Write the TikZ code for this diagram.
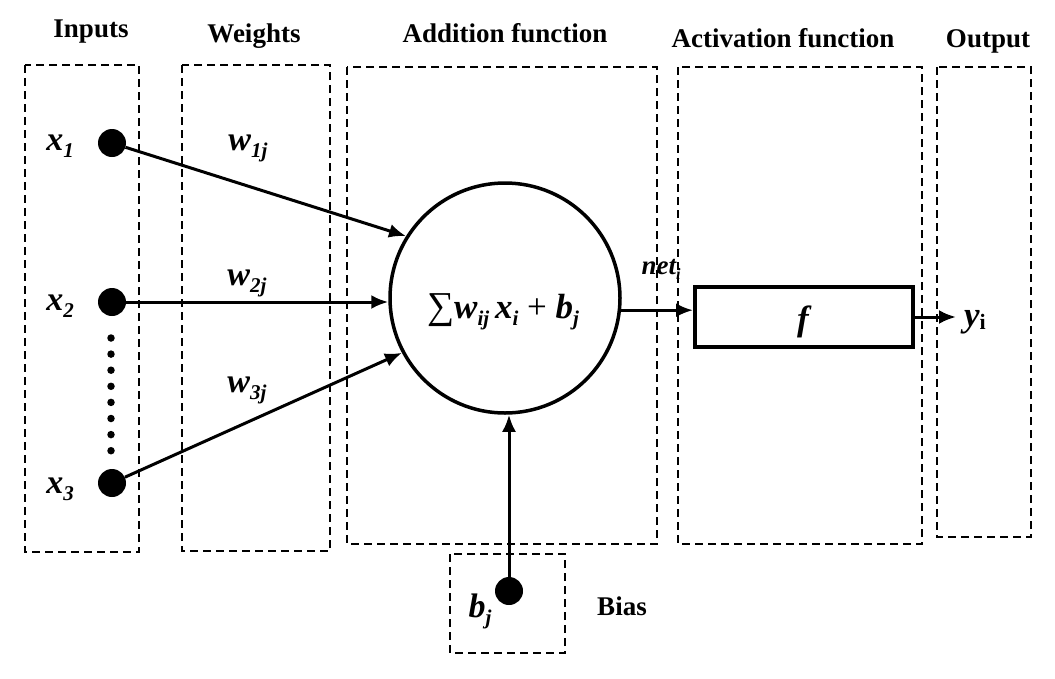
\documentclass[tikz,border=0pt]{standalone}
\usepackage{fontspec}
\setmainfont{Liberation Serif}
\usetikzlibrary{arrows.meta}
\newcommand{\mvar}[1]{{\bfseries\itshape #1}}
\newcommand{\msub}[1]{\raisebox{-0.22em}{\fontsize{21}{21}\selectfont\bfseries\itshape #1}}
\begin{document}
\begin{tikzpicture}[x=1pt,y=-1pt,
  group/.style={draw, dash pattern=on 8pt off 5pt, line width=1.4pt},
  heading/.style={font=\fontsize{27}{30}\selectfont\bfseries, anchor=base, inner sep=0pt},
  lbl/.style={font=\fontsize{34}{38}\selectfont, anchor=base, inner sep=0pt},
  dotnode/.style={circle, fill=black, minimum size=28pt, inner sep=0pt},
  smalldot/.style={circle, fill=black, minimum size=7.5pt, inner sep=0pt},
  arr/.style={line width=3pt, -{Latex[length=17pt,width=14pt]}},
]
\useasboundingbox (0,0) rectangle (1055,678);
% group boxes
\draw[group] (25,65) rectangle (139,552);
\draw[group] (182,65) rectangle (330,551);
\draw[group] (347,67) rectangle (657,544);
\draw[group] (678,67) rectangle (922,544);
\draw[group] (937,67) rectangle (1031,537);
\draw[group] (450,554) rectangle (565,653);
% headings
\node[heading] (hin) at (91,37) {Inputs};
\node[heading] (hw) at (254,42) {Weights};
\node[heading] (hadd) at (505,42) {Addition function};
\node[heading] (hact) at (783,47) {Activation function};
\node[heading] (hout) at (988,47) {Output};
\node[heading] (hbias) at (622,615) {Bias};
% input dots
\node[dotnode] (x1) at (112,143) {};
\node[dotnode] (x2) at (112,302) {};
\node[dotnode] (x3) at (112,483) {};
\foreach \k in {0,...,7}{
  \node[smalldot] (d\k) at (111,{338+\k*16.1}) {};
}
% labels
\node[lbl] (lx1) at (60,150) {\mvar{x}\msub{1}};
\node[lbl] (lx2) at (60,310) {\mvar{x}\msub{2}};
\node[lbl] (lx3) at (60,493) {\mvar{x}\msub{3}};
\node[lbl] (lw1) at (248,150) {\mvar{w}\msub{1j}};
\node[lbl] (lw2) at (247,285) {\mvar{w}\msub{2j}};
\node[lbl] (lw3) at (247,392) {\mvar{w}\msub{3j}};
% summation
\node[circle, draw, line width=3.5pt, minimum size=230pt, inner sep=0pt] (sum) at (505,298) {};
\node[font=\fontsize{35}{38}\selectfont, anchor=base, inner sep=0pt] (sumtxt) at (503,318)
  {{\fontsize{38}{38}\selectfont ∑}\mvar{w}\msub{ij}\,\mvar{x}\msub{i} + \mvar{b}\msub{j}};
% activation
\node[draw, line width=4pt, minimum width=218pt, minimum height=60pt, inner sep=0pt] (fbox) at (804,317) {};
\node[font=\fontsize{35}{38}\selectfont\bfseries\itshape, anchor=base, inner sep=0pt] (ftxt) at (803,330) {f};
\node[font=\fontsize{27}{30}\selectfont\bfseries\itshape, anchor=base, inner sep=0pt] (net) at (661,274)
  {net\raisebox{-0.2em}{\fontsize{16}{16}\selectfont i}};
\node[font=\fontsize{35}{38}\selectfont, anchor=base west, inner sep=0pt] (yi) at (964,326)
  {\mvar{y}\raisebox{-0.1em}{\fontsize{22}{22}\selectfont\bfseries i}};
% bias
\node[dotnode] (bdot) at (509,591) {};
\node[lbl] (lb) at (480,617) {\mvar{b}\msub{j}};
% connectors
\draw[arr] (x1) -- (sum.148);
\draw[arr] (x2) -- (x2 -| sum.west);
\draw[arr] (x3) -- (sum.208);
\draw[arr] (bdot) -- (bdot |- sum.south);
\draw[arr] (sum.-6) -- (sum.-6 -| fbox.west);
\draw[arr] (fbox.east) -- ([xshift=-8pt]yi.west |- fbox.east);
\end{tikzpicture}
\end{document}
